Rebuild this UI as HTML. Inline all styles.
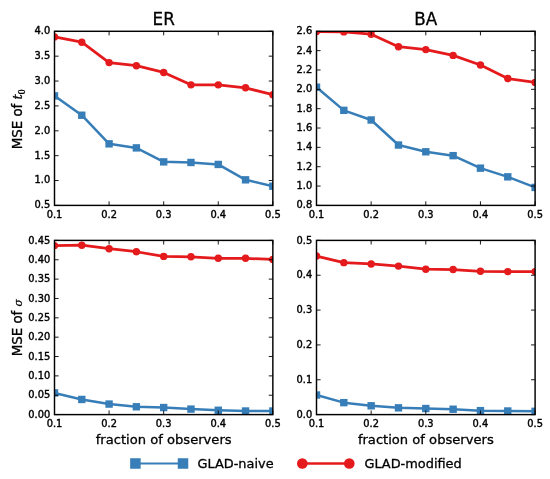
<!DOCTYPE html>
<html lang="en"><head><meta charset="utf-8"><title>GLAD MSE comparison</title>
<style>html,body{margin:0;padding:0;background:#fff;}body{width:550px;height:479px;overflow:hidden;}svg{display:block;}</style>
</head><body>
<svg width="550" height="479" viewBox="0 0 550 479" font-family="'DejaVu Sans', 'Liberation Sans', sans-serif" fill="#000">
<rect width="550" height="479" fill="#fff"/>
<clipPath id="c0"><rect x="54.5" y="31.3" width="218.35000000000002" height="174.1"/></clipPath>
<g clip-path="url(#c0)">
<polyline points="54.50,95.89 81.79,115.23 109.09,143.83 136.38,147.89 163.68,161.87 190.97,162.47 218.26,164.45 245.56,179.82 272.85,186.21" fill="none" stroke="#377eb8" stroke-width="2.5" stroke-linejoin="round"/>
<rect x="50.80" y="92.19" width="7.4" height="7.4" fill="#377eb8"/>
<rect x="78.09" y="111.53" width="7.4" height="7.4" fill="#377eb8"/>
<rect x="105.39" y="140.13" width="7.4" height="7.4" fill="#377eb8"/>
<rect x="132.68" y="144.19" width="7.4" height="7.4" fill="#377eb8"/>
<rect x="159.98" y="158.17" width="7.4" height="7.4" fill="#377eb8"/>
<rect x="187.27" y="158.77" width="7.4" height="7.4" fill="#377eb8"/>
<rect x="214.56" y="160.75" width="7.4" height="7.4" fill="#377eb8"/>
<rect x="241.86" y="176.12" width="7.4" height="7.4" fill="#377eb8"/>
<rect x="269.15" y="182.51" width="7.4" height="7.4" fill="#377eb8"/>
<polyline points="54.50,36.90 81.79,42.20 109.09,62.58 136.38,65.70 163.68,72.44 190.97,84.84 218.26,84.84 245.56,87.81 272.85,94.75" fill="none" stroke="#e41a1c" stroke-width="2.75" stroke-linejoin="round"/>
<circle cx="54.50" cy="36.90" r="3.7" fill="#e41a1c"/>
<circle cx="81.79" cy="42.20" r="3.7" fill="#e41a1c"/>
<circle cx="109.09" cy="62.58" r="3.7" fill="#e41a1c"/>
<circle cx="136.38" cy="65.70" r="3.7" fill="#e41a1c"/>
<circle cx="163.68" cy="72.44" r="3.7" fill="#e41a1c"/>
<circle cx="190.97" cy="84.84" r="3.7" fill="#e41a1c"/>
<circle cx="218.26" cy="84.84" r="3.7" fill="#e41a1c"/>
<circle cx="245.56" cy="87.81" r="3.7" fill="#e41a1c"/>
<circle cx="272.85" cy="94.75" r="3.7" fill="#e41a1c"/>
</g>
<path d="M54.50,205.4v-4.1M54.50,31.3v4.1M109.09,205.4v-4.1M109.09,31.3v4.1M163.68,205.4v-4.1M163.68,31.3v4.1M218.26,205.4v-4.1M218.26,31.3v4.1M272.85,205.4v-4.1M272.85,31.3v4.1M54.5,205.40h4.1M272.85,205.40h-4.1M54.5,180.53h4.1M272.85,180.53h-4.1M54.5,155.66h4.1M272.85,155.66h-4.1M54.5,130.79h4.1M272.85,130.79h-4.1M54.5,105.91h4.1M272.85,105.91h-4.1M54.5,81.04h4.1M272.85,81.04h-4.1M54.5,56.17h4.1M272.85,56.17h-4.1M54.5,31.30h4.1M272.85,31.30h-4.1" stroke="#000" stroke-width="0.9" fill="none"/>
<rect x="54.5" y="31.3" width="218.35000000000002" height="174.1" fill="none" stroke="#000" stroke-width="1.45"/>
<g font-size="9.85" stroke="#000" stroke-width="0.4">
<text x="54.50" y="217.65" text-anchor="middle">0.1</text>
<text x="109.09" y="217.65" text-anchor="middle">0.2</text>
<text x="163.68" y="217.65" text-anchor="middle">0.3</text>
<text x="218.26" y="217.65" text-anchor="middle">0.4</text>
<text x="272.85" y="217.65" text-anchor="middle">0.5</text>
<text x="50.20" y="208.35" text-anchor="end">0.5</text>
<text x="50.20" y="183.48" text-anchor="end">1.0</text>
<text x="50.20" y="158.61" text-anchor="end">1.5</text>
<text x="50.20" y="133.74" text-anchor="end">2.0</text>
<text x="50.20" y="108.86" text-anchor="end">2.5</text>
<text x="50.20" y="83.99" text-anchor="end">3.0</text>
<text x="50.20" y="59.12" text-anchor="end">3.5</text>
<text x="50.20" y="34.25" text-anchor="end">4.0</text>
</g>
<text x="163.68" y="25.3" font-size="16.8" stroke="#000" stroke-width="0.3" text-anchor="middle">ER</text>
<text transform="translate(22.1,119.35) rotate(-90)" font-size="13.4" stroke="#000" stroke-width="0.3" text-anchor="middle">MSE of <tspan font-family="'DejaVu Serif', 'Liberation Serif', serif" font-style="italic" font-size="13.2" stroke-width="0.3">t</tspan><tspan font-family="'Liberation Serif', serif" font-size="9.6" dy="2.4" stroke-width="0.3">0</tspan></text>
<clipPath id="c1"><rect x="316.5" y="31.3" width="218.60000000000002" height="174.1"/></clipPath>
<g clip-path="url(#c1)">
<polyline points="316.50,87.21 343.82,110.34 371.15,119.97 398.48,145.04 425.80,151.79 453.12,155.65 480.45,168.17 507.77,176.85 535.10,187.45" fill="none" stroke="#377eb8" stroke-width="2.5" stroke-linejoin="round"/>
<rect x="312.80" y="83.51" width="7.4" height="7.4" fill="#377eb8"/>
<rect x="340.12" y="106.64" width="7.4" height="7.4" fill="#377eb8"/>
<rect x="367.45" y="116.27" width="7.4" height="7.4" fill="#377eb8"/>
<rect x="394.78" y="141.34" width="7.4" height="7.4" fill="#377eb8"/>
<rect x="422.10" y="148.09" width="7.4" height="7.4" fill="#377eb8"/>
<rect x="449.43" y="151.95" width="7.4" height="7.4" fill="#377eb8"/>
<rect x="476.75" y="164.47" width="7.4" height="7.4" fill="#377eb8"/>
<rect x="504.07" y="173.15" width="7.4" height="7.4" fill="#377eb8"/>
<rect x="531.40" y="183.75" width="7.4" height="7.4" fill="#377eb8"/>
<polyline points="316.50,31.59 343.82,31.88 371.15,34.19 398.48,46.72 425.80,49.61 453.12,55.39 480.45,65.04 507.77,78.53 535.10,82.39" fill="none" stroke="#e41a1c" stroke-width="2.75" stroke-linejoin="round"/>
<circle cx="316.50" cy="31.59" r="3.7" fill="#e41a1c"/>
<circle cx="343.82" cy="31.88" r="3.7" fill="#e41a1c"/>
<circle cx="371.15" cy="34.19" r="3.7" fill="#e41a1c"/>
<circle cx="398.48" cy="46.72" r="3.7" fill="#e41a1c"/>
<circle cx="425.80" cy="49.61" r="3.7" fill="#e41a1c"/>
<circle cx="453.12" cy="55.39" r="3.7" fill="#e41a1c"/>
<circle cx="480.45" cy="65.04" r="3.7" fill="#e41a1c"/>
<circle cx="507.77" cy="78.53" r="3.7" fill="#e41a1c"/>
<circle cx="535.10" cy="82.39" r="3.7" fill="#e41a1c"/>
</g>
<path d="M316.50,205.4v-4.1M316.50,31.3v4.1M371.15,205.4v-4.1M371.15,31.3v4.1M425.80,205.4v-4.1M425.80,31.3v4.1M480.45,205.4v-4.1M480.45,31.3v4.1M535.10,205.4v-4.1M535.10,31.3v4.1M316.5,205.40h4.1M535.1,205.40h-4.1M316.5,186.06h4.1M535.1,186.06h-4.1M316.5,166.71h4.1M535.1,166.71h-4.1M316.5,147.37h4.1M535.1,147.37h-4.1M316.5,128.02h4.1M535.1,128.02h-4.1M316.5,108.68h4.1M535.1,108.68h-4.1M316.5,89.33h4.1M535.1,89.33h-4.1M316.5,69.99h4.1M535.1,69.99h-4.1M316.5,50.64h4.1M535.1,50.64h-4.1M316.5,31.30h4.1M535.1,31.30h-4.1" stroke="#000" stroke-width="0.9" fill="none"/>
<rect x="316.5" y="31.3" width="218.60000000000002" height="174.1" fill="none" stroke="#000" stroke-width="1.45"/>
<g font-size="9.85" stroke="#000" stroke-width="0.4">
<text x="316.50" y="217.65" text-anchor="middle">0.1</text>
<text x="371.15" y="217.65" text-anchor="middle">0.2</text>
<text x="425.80" y="217.65" text-anchor="middle">0.3</text>
<text x="480.45" y="217.65" text-anchor="middle">0.4</text>
<text x="535.10" y="217.65" text-anchor="middle">0.5</text>
<text x="312.20" y="208.35" text-anchor="end">0.8</text>
<text x="312.20" y="189.01" text-anchor="end">1.0</text>
<text x="312.20" y="169.66" text-anchor="end">1.2</text>
<text x="312.20" y="150.32" text-anchor="end">1.4</text>
<text x="312.20" y="130.97" text-anchor="end">1.6</text>
<text x="312.20" y="111.63" text-anchor="end">1.8</text>
<text x="312.20" y="92.28" text-anchor="end">2.0</text>
<text x="312.20" y="72.94" text-anchor="end">2.2</text>
<text x="312.20" y="53.59" text-anchor="end">2.4</text>
<text x="312.20" y="34.25" text-anchor="end">2.6</text>
</g>
<text x="425.80" y="25.3" font-size="16.8" stroke="#000" stroke-width="0.3" text-anchor="middle">BA</text>
<clipPath id="c2"><rect x="54.5" y="240.4" width="218.35000000000002" height="174.20000000000002"/></clipPath>
<g clip-path="url(#c2)">
<polyline points="54.50,392.92 81.79,399.46 109.09,404.07 136.38,406.78 163.68,407.55 190.97,409.10 218.26,410.26 245.56,411.00 272.85,411.00" fill="none" stroke="#377eb8" stroke-width="2.5" stroke-linejoin="round"/>
<rect x="50.80" y="389.22" width="7.4" height="7.4" fill="#377eb8"/>
<rect x="78.09" y="395.76" width="7.4" height="7.4" fill="#377eb8"/>
<rect x="105.39" y="400.37" width="7.4" height="7.4" fill="#377eb8"/>
<rect x="132.68" y="403.08" width="7.4" height="7.4" fill="#377eb8"/>
<rect x="159.98" y="403.85" width="7.4" height="7.4" fill="#377eb8"/>
<rect x="187.27" y="405.40" width="7.4" height="7.4" fill="#377eb8"/>
<rect x="214.56" y="406.56" width="7.4" height="7.4" fill="#377eb8"/>
<rect x="241.86" y="407.30" width="7.4" height="7.4" fill="#377eb8"/>
<rect x="269.15" y="407.30" width="7.4" height="7.4" fill="#377eb8"/>
<polyline points="54.50,245.59 81.79,245.20 109.09,248.68 136.38,251.74 163.68,256.39 190.97,256.77 218.26,258.32 245.56,258.32 272.85,259.45" fill="none" stroke="#e41a1c" stroke-width="2.75" stroke-linejoin="round"/>
<circle cx="54.50" cy="245.59" r="3.7" fill="#e41a1c"/>
<circle cx="81.79" cy="245.20" r="3.7" fill="#e41a1c"/>
<circle cx="109.09" cy="248.68" r="3.7" fill="#e41a1c"/>
<circle cx="136.38" cy="251.74" r="3.7" fill="#e41a1c"/>
<circle cx="163.68" cy="256.39" r="3.7" fill="#e41a1c"/>
<circle cx="190.97" cy="256.77" r="3.7" fill="#e41a1c"/>
<circle cx="218.26" cy="258.32" r="3.7" fill="#e41a1c"/>
<circle cx="245.56" cy="258.32" r="3.7" fill="#e41a1c"/>
<circle cx="272.85" cy="259.45" r="3.7" fill="#e41a1c"/>
</g>
<path d="M54.50,414.6v-4.1M54.50,240.4v4.1M109.09,414.6v-4.1M109.09,240.4v4.1M163.68,414.6v-4.1M163.68,240.4v4.1M218.26,414.6v-4.1M218.26,240.4v4.1M272.85,414.6v-4.1M272.85,240.4v4.1M54.5,414.60h4.1M272.85,414.60h-4.1M54.5,395.24h4.1M272.85,395.24h-4.1M54.5,375.89h4.1M272.85,375.89h-4.1M54.5,356.53h4.1M272.85,356.53h-4.1M54.5,337.18h4.1M272.85,337.18h-4.1M54.5,317.82h4.1M272.85,317.82h-4.1M54.5,298.47h4.1M272.85,298.47h-4.1M54.5,279.11h4.1M272.85,279.11h-4.1M54.5,259.76h4.1M272.85,259.76h-4.1M54.5,240.40h4.1M272.85,240.40h-4.1" stroke="#000" stroke-width="0.9" fill="none"/>
<rect x="54.5" y="240.4" width="218.35000000000002" height="174.20000000000002" fill="none" stroke="#000" stroke-width="1.45"/>
<g font-size="9.85" stroke="#000" stroke-width="0.4">
<text x="54.50" y="426.85" text-anchor="middle">0.1</text>
<text x="109.09" y="426.85" text-anchor="middle">0.2</text>
<text x="163.68" y="426.85" text-anchor="middle">0.3</text>
<text x="218.26" y="426.85" text-anchor="middle">0.4</text>
<text x="272.85" y="426.85" text-anchor="middle">0.5</text>
<text x="50.20" y="417.80" text-anchor="end">0.00</text>
<text x="50.20" y="398.44" text-anchor="end">0.05</text>
<text x="50.20" y="379.09" text-anchor="end">0.10</text>
<text x="50.20" y="359.73" text-anchor="end">0.15</text>
<text x="50.20" y="340.38" text-anchor="end">0.20</text>
<text x="50.20" y="321.02" text-anchor="end">0.25</text>
<text x="50.20" y="301.67" text-anchor="end">0.30</text>
<text x="50.20" y="282.31" text-anchor="end">0.35</text>
<text x="50.20" y="262.96" text-anchor="end">0.40</text>
<text x="50.20" y="243.60" text-anchor="end">0.45</text>
</g>
<text x="163.68" y="443.7" font-size="13.1" stroke="#000" stroke-width="0.3" text-anchor="middle">fraction of observers</text>
<text transform="translate(22.1,327.70) rotate(-90)" font-size="13.4" stroke="#000" stroke-width="0.3" text-anchor="middle">MSE of <tspan font-family="'DejaVu Serif', 'Liberation Serif', serif" font-style="italic" font-size="10.8" stroke-width="0.25">σ</tspan></text>
<clipPath id="c3"><rect x="316.5" y="240.4" width="218.60000000000002" height="174.20000000000002"/></clipPath>
<g clip-path="url(#c3)">
<polyline points="316.50,395.02 343.82,402.65 371.15,405.79 398.48,407.84 425.80,408.54 453.12,409.23 480.45,410.63 507.77,410.98 535.10,411.33" fill="none" stroke="#377eb8" stroke-width="2.5" stroke-linejoin="round"/>
<rect x="312.80" y="391.32" width="7.4" height="7.4" fill="#377eb8"/>
<rect x="340.12" y="398.95" width="7.4" height="7.4" fill="#377eb8"/>
<rect x="367.45" y="402.09" width="7.4" height="7.4" fill="#377eb8"/>
<rect x="394.78" y="404.14" width="7.4" height="7.4" fill="#377eb8"/>
<rect x="422.10" y="404.84" width="7.4" height="7.4" fill="#377eb8"/>
<rect x="449.43" y="405.53" width="7.4" height="7.4" fill="#377eb8"/>
<rect x="476.75" y="406.93" width="7.4" height="7.4" fill="#377eb8"/>
<rect x="504.07" y="407.28" width="7.4" height="7.4" fill="#377eb8"/>
<rect x="531.40" y="407.63" width="7.4" height="7.4" fill="#377eb8"/>
<polyline points="316.50,256.04 343.82,262.63 371.15,263.99 398.48,266.08 425.80,269.21 453.12,269.56 480.45,271.30 507.77,271.62 535.10,271.62" fill="none" stroke="#e41a1c" stroke-width="2.75" stroke-linejoin="round"/>
<circle cx="316.50" cy="256.04" r="3.7" fill="#e41a1c"/>
<circle cx="343.82" cy="262.63" r="3.7" fill="#e41a1c"/>
<circle cx="371.15" cy="263.99" r="3.7" fill="#e41a1c"/>
<circle cx="398.48" cy="266.08" r="3.7" fill="#e41a1c"/>
<circle cx="425.80" cy="269.21" r="3.7" fill="#e41a1c"/>
<circle cx="453.12" cy="269.56" r="3.7" fill="#e41a1c"/>
<circle cx="480.45" cy="271.30" r="3.7" fill="#e41a1c"/>
<circle cx="507.77" cy="271.62" r="3.7" fill="#e41a1c"/>
<circle cx="535.10" cy="271.62" r="3.7" fill="#e41a1c"/>
</g>
<path d="M316.50,414.6v-4.1M316.50,240.4v4.1M371.15,414.6v-4.1M371.15,240.4v4.1M425.80,414.6v-4.1M425.80,240.4v4.1M480.45,414.6v-4.1M480.45,240.4v4.1M535.10,414.6v-4.1M535.10,240.4v4.1M316.5,414.60h4.1M535.1,414.60h-4.1M316.5,379.76h4.1M535.1,379.76h-4.1M316.5,344.92h4.1M535.1,344.92h-4.1M316.5,310.08h4.1M535.1,310.08h-4.1M316.5,275.24h4.1M535.1,275.24h-4.1M316.5,240.40h4.1M535.1,240.40h-4.1" stroke="#000" stroke-width="0.9" fill="none"/>
<rect x="316.5" y="240.4" width="218.60000000000002" height="174.20000000000002" fill="none" stroke="#000" stroke-width="1.45"/>
<g font-size="9.85" stroke="#000" stroke-width="0.4">
<text x="316.50" y="426.85" text-anchor="middle">0.1</text>
<text x="371.15" y="426.85" text-anchor="middle">0.2</text>
<text x="425.80" y="426.85" text-anchor="middle">0.3</text>
<text x="480.45" y="426.85" text-anchor="middle">0.4</text>
<text x="535.10" y="426.85" text-anchor="middle">0.5</text>
<text x="312.20" y="417.80" text-anchor="end">0.0</text>
<text x="312.20" y="382.96" text-anchor="end">0.1</text>
<text x="312.20" y="348.12" text-anchor="end">0.2</text>
<text x="312.20" y="313.28" text-anchor="end">0.3</text>
<text x="312.20" y="278.44" text-anchor="end">0.4</text>
<text x="312.20" y="243.60" text-anchor="end">0.5</text>
</g>
<text x="425.80" y="443.7" font-size="13.1" stroke="#000" stroke-width="0.3" text-anchor="middle">fraction of observers</text>
<path d="M135.4,463.5H183" stroke="#377eb8" stroke-width="2.2" fill="none"/>
<rect x="130.15" y="458.25" width="10.5" height="10.5" fill="#377eb8"/>
<rect x="177.75" y="458.25" width="10.5" height="10.5" fill="#377eb8"/>
<text x="197.5" y="468" font-size="12.9" stroke="#000" stroke-width="0.3">GLAD-naive</text>
<path d="M302.3,463.5H349.3" stroke="#e41a1c" stroke-width="2.6" fill="none"/>
<circle cx="302.3" cy="463.5" r="5.3" fill="#e41a1c"/>
<circle cx="349.3" cy="463.5" r="5.3" fill="#e41a1c"/>
<text x="364.4" y="468" font-size="12.9" stroke="#000" stroke-width="0.3">GLAD-modified</text>
</svg>
</body></html>
